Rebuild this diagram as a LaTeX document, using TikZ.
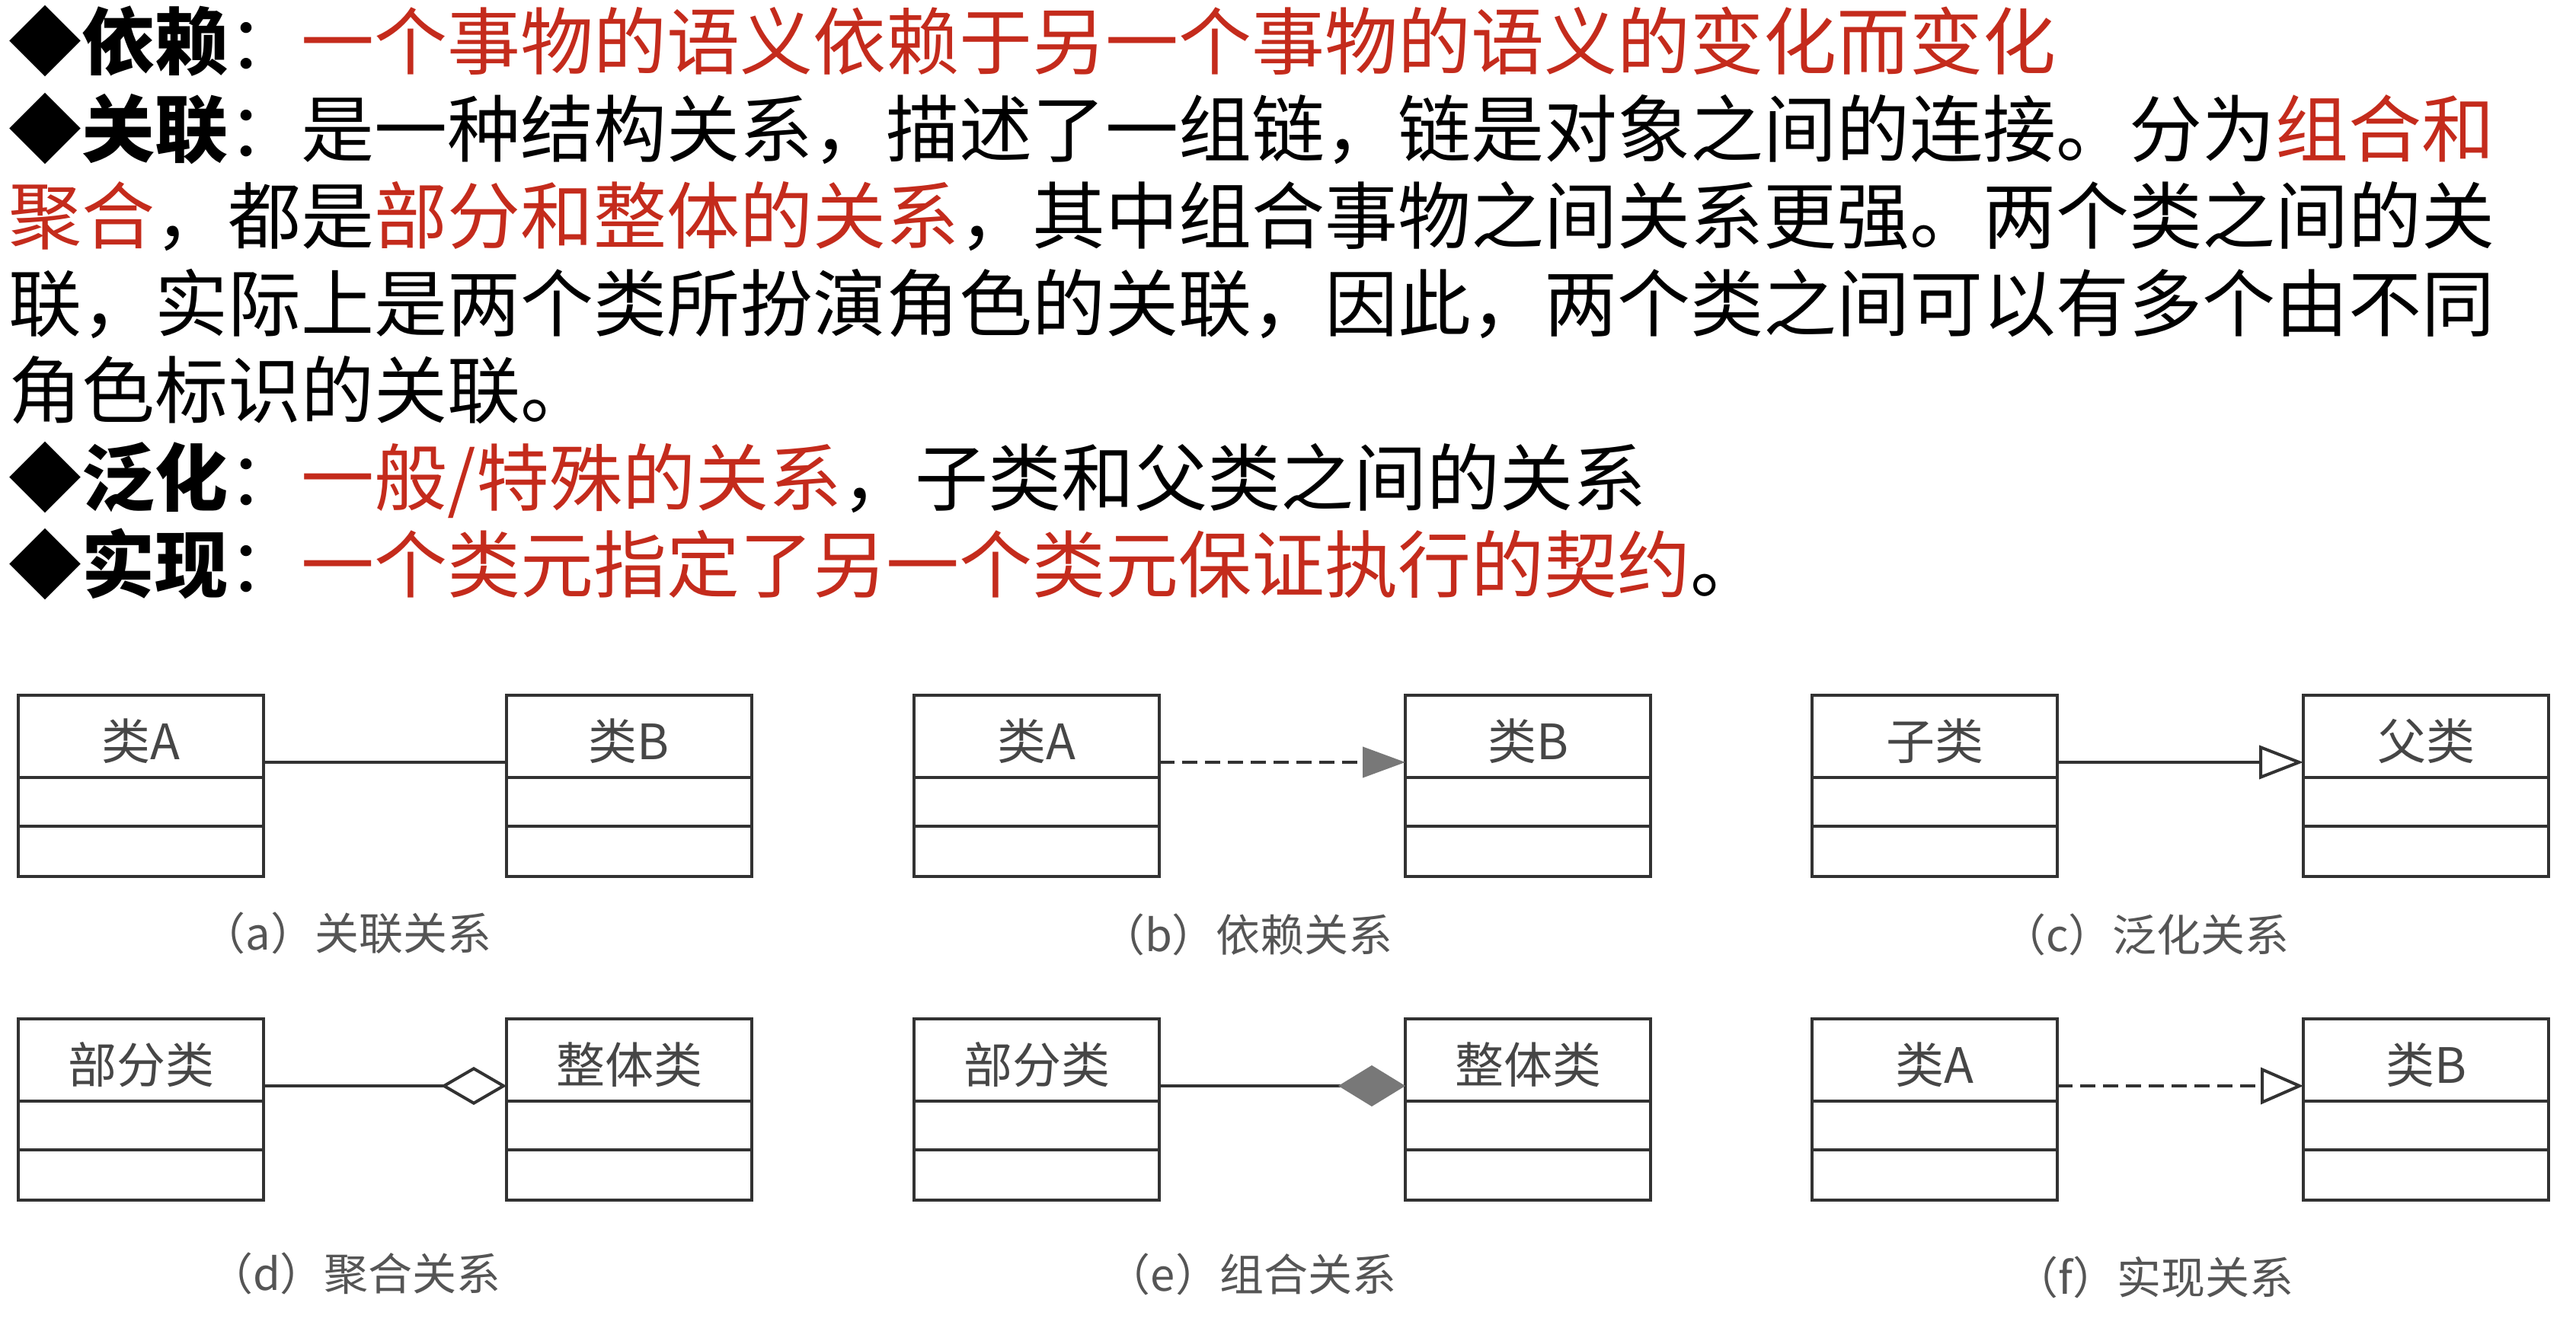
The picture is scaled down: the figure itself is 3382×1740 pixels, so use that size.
\documentclass[tikz,border=0pt]{standalone}
\usepackage{fontspec}
\newfontfamily\cjk{Noto Sans CJK SC}
\usetikzlibrary{arrows.meta,calc}
\definecolor{hired}{RGB}{196,43,28}
\definecolor{boxc}{RGB}{50,50,50}
\definecolor{labc}{RGB}{70,70,70}
\definecolor{capc}{RGB}{85,85,85}
\definecolor{tipfill}{RGB}{120,120,120}
\tikzset{
 txt/.style={anchor=base west, inner sep=0pt, font=\cjk\fontsize{24pt}{28pt}\selectfont},
 umlbox/.style={draw=boxc, line width=1pt, rectangle, anchor=north west, minimum width=80.5pt, minimum height=59.5pt, inner sep=0pt, outer sep=0pt},
 boxlabel/.style={inner sep=0pt, font=\cjk\fontsize{16pt}{18pt}\selectfont, text=labc},
 capt/.style={inner sep=0pt, font=\cjk\fontsize{14.5pt}{16pt}\selectfont, text=capc},
 conn/.style={draw=boxc, line width=1pt},
 dashconn/.style={conn, dash pattern=on 5pt off 2.5pt},
}
\newcommand\umlcls[4]{%
  \node[umlbox] (#1) at (#2,#3) {};
  \draw[conn] ($(#1.north west)+(0,108)$) -- ($(#1.north east)+(0,108)$);
  \draw[conn] ($(#1.north west)+(0,172)$) -- ($(#1.north east)+(0,172)$);
  \node[boxlabel] (#1-l) at ($(#1.north)+(0,60)$) {#4};
}
\begin{document}
\begin{tikzpicture}[x=0.25pt,y=-0.25pt]
\useasboundingbox[fill=white] (0,0) rectangle (3382,1740);

\node[txt] (l1) at (11,91) {{\bfseries ◆依赖}：\textcolor{hired}{一个事物的语义依赖于另一个事物的语义的变化而变化}};
\node[txt] (l2) at (11,205.5) {{\bfseries ◆关联}：是一种结构关系，描述了一组链，链是对象之间的连接。分为\textcolor{hired}{组合和}};
\node[txt] (l3) at (11,320) {\textcolor{hired}{聚合}，都是\textcolor{hired}{部分和整体的关系}，其中组合事物之间关系更强。两个类之间的关};
\node[txt] (l4) at (11,434.5) {联，实际上是两个类所扮演角色的关联，因此，两个类之间可以有多个由不同};
\node[txt] (l5) at (11,549) {角色标识的关联。};
\node[txt] (l6) at (11,663.5) {{\bfseries ◆泛化}：\textcolor{hired}{一般/特殊的关系}，子类和父类之间的关系};
\node[txt] (l7) at (11,778) {{\bfseries ◆实现}：\textcolor{hired}{一个类元指定了另一个类元保证执行的契约}。};

% row 1
\umlcls{a1}{24}{913}{类A}
\umlcls{a2}{665}{913}{类B}
\umlcls{b1}{1200}{913}{类A}
\umlcls{b2}{1845}{913}{类B}
\umlcls{c1}{2379}{913}{子类}
\umlcls{c2}{3024}{913}{父类}
% row 2
\umlcls{d1}{24}{1338}{部分类}
\umlcls{d2}{665}{1338}{整体类}
\umlcls{e1}{1200}{1338}{部分类}
\umlcls{e2}{1845}{1338}{整体类}
\umlcls{f1}{2379}{1338}{类A}
\umlcls{f2}{3024}{1338}{类B}

% connectors
\draw[dashconn, -{Triangle[length=14pt,width=10pt,fill=tipfill,color=tipfill]}] ($(b1.north east)+(0,88)$) -- ($(b2.north west)+(0,88)$);
\draw[conn] ($(a1.north east)+(0,88)$) -- ($(a2.north west)+(0,88)$);
\draw[conn, -{Triangle[open,length=14.5pt,width=11pt]}] ($(c1.north east)+(0,88)$) -- ($(c2.north west)+(0,88)$);
\draw[conn, -{Diamond[open,length=21.5pt,width=12.5pt]}] ($(d1.north east)+(0,88)$) -- ($(d2.north west)+(0,88)$);
\draw[conn, -{Diamond[length=22pt,width=13.5pt,fill=tipfill,color=tipfill]}] ($(e1.north east)+(0,88)$) -- ($(e2.north west)+(0,88)$);
\draw[dashconn, -{Triangle[open,length=14pt,width=12pt]}] ($(f1.north east)+(0,88)$) -- ($(f2.north west)+(0,88)$);

% captions
\node[capt] (ca) at (455,1225) {（a）关联关系};
\node[capt] (cb) at (1637,1227) {（b）依赖关系};
\node[capt] (cc) at (2817,1227) {（c）泛化关系};
\node[capt] (cd) at (466,1672) {（d）聚合关系};
\node[capt] (ce) at (1643,1673) {（e）组合关系};
\node[capt] (cf) at (2828,1677) {（f）实现关系};
\end{tikzpicture}
\end{document}
